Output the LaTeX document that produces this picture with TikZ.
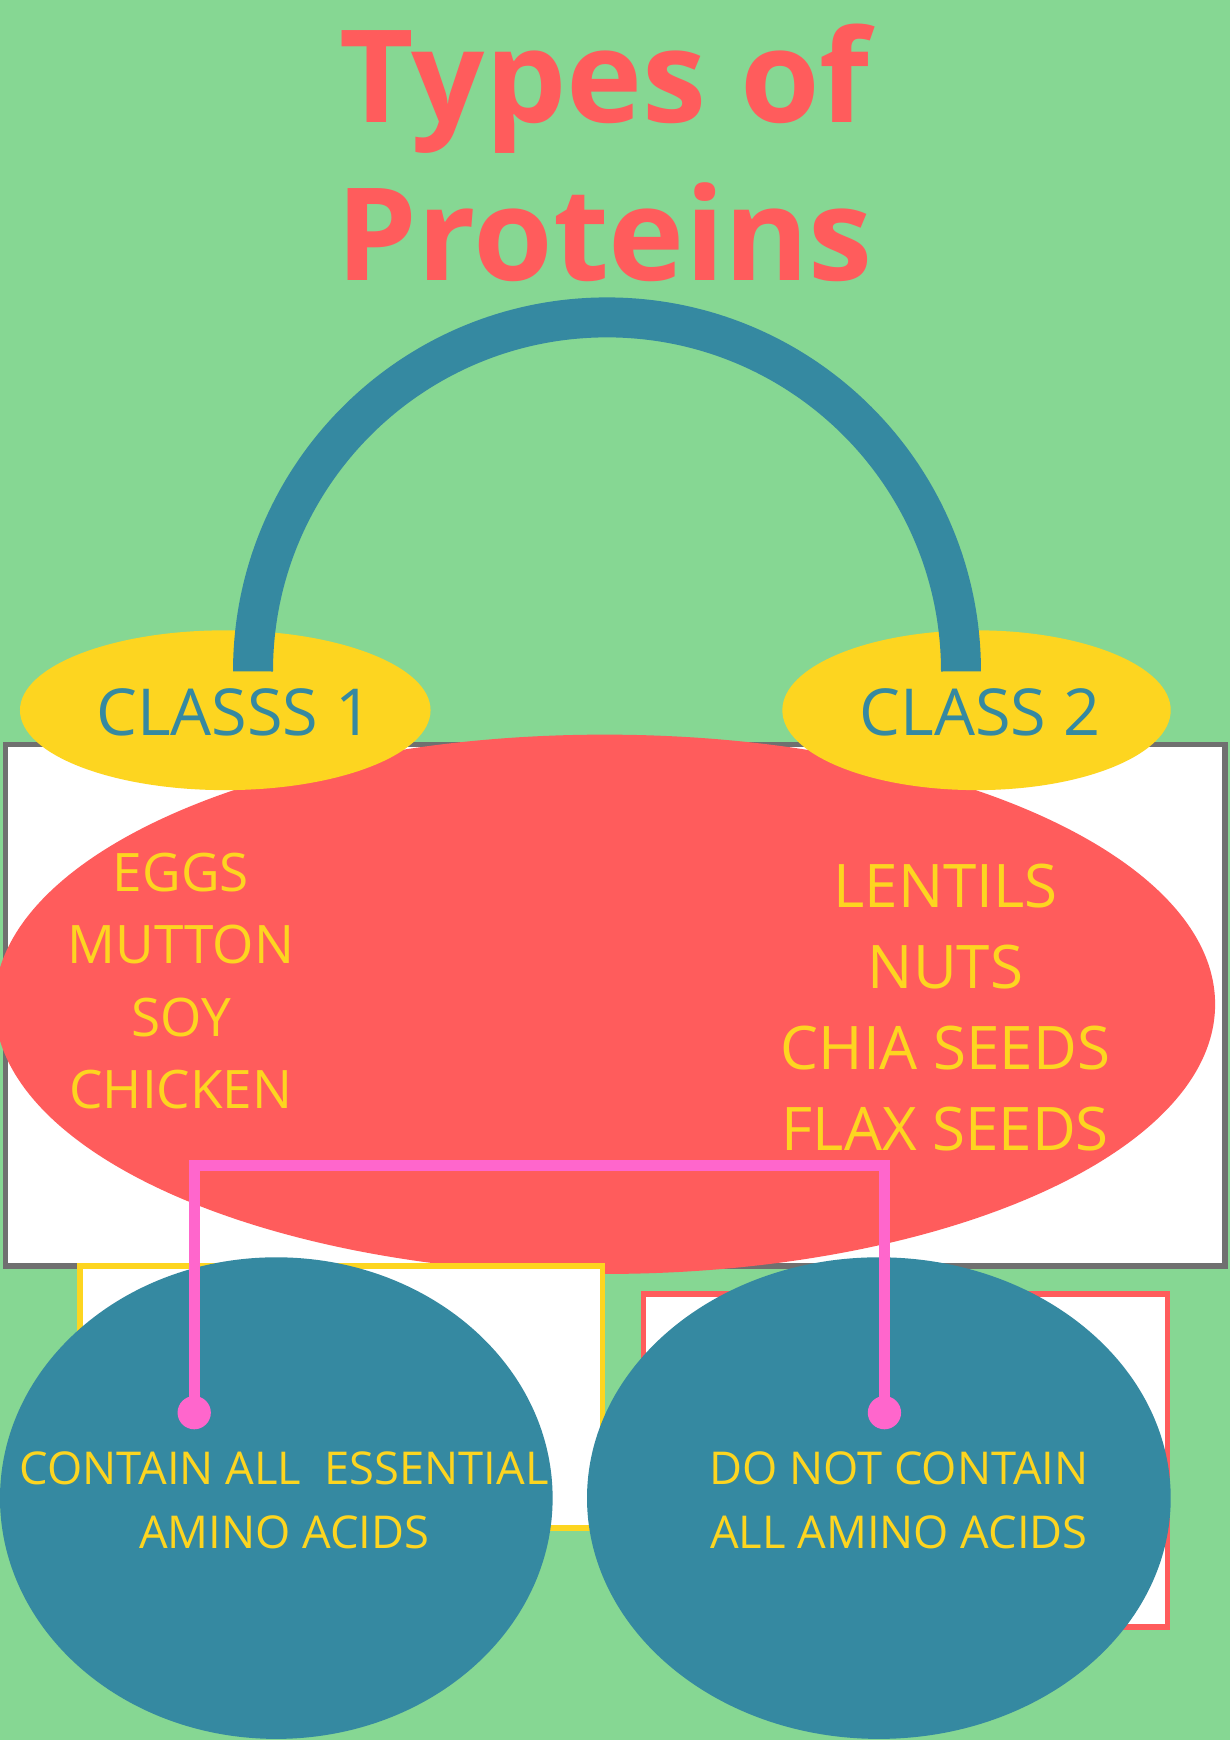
\documentclass[tikz,border=0pt]{standalone}
\usepackage{fontspec}
\setmainfont{Open Sans}
\definecolor{bg}{HTML}{86D793}
\definecolor{tred}{HTML}{FF5C5C}
\definecolor{tblue}{HTML}{3589A1}
\definecolor{tyel}{HTML}{FDD520}
\definecolor{tpink}{HTML}{FF66CC}
\definecolor{tgray}{HTML}{707070}
\begin{document}
\begin{tikzpicture}[x=0.01cm,y=-0.01cm,
  lst/.style={text=tyel,font=\fontsize{13.6}{18.5}\selectfont,align=center},
  lstr/.style={text=tyel,font=\fontsize{15.4}{20.8}\selectfont,align=center},
  bot/.style={text=tyel,font=\fontsize{11.6}{16.2}\selectfont,align=center},
  cls/.style={text=tblue,font=\fontsize{16.6}{20}\selectfont}]
\fill[bg] (0,0) rectangle (1108,1568);
\useasboundingbox (0,0) rectangle (1108,1568);
\node[text=tred,font=\bfseries\fontsize{33}{40.5}\selectfont,align=center] (title) at (545,138) {Types of\\Proteins};
\draw[tgray,line width=0.05cm,fill=white] (5,671) rectangle (1104,1141);
\fill[tred] (545,905) ellipse [x radius=550,y radius=243];
\fill[tyel] (203,640) ellipse [x radius=185,y radius=72];
\fill[tyel] (880,640) ellipse [x radius=175,y radius=72];
\node[cls] (c1) at (211,642) {CLASSS 1};
\node[cls] (c2) at (883,642) {CLASS 2};
\draw[tblue,line width=0.36cm] (228,605) arc[start angle=180,end angle=360,radius=319];
\node[lst] (l1) at (163,884) {EGGS\\MUTTON\\SOY\\CHICKEN};
\node[lstr] (l2) at (852,908) {LENTILS\\NUTS\\CHIA SEEDS\\FLAX SEEDS};
\node[font=\fontsize{7}{8}\selectfont] (ov) at (130,1146) {ov};
\draw[tyel,line width=0.05cm,fill=white] (72,1141) rectangle (543,1377);
\draw[tred,line width=0.05cm,fill=white] (580,1166) rectangle (1052,1466);
\fill[tblue] (249,1350) ellipse [x radius=249,y radius=217];
\fill[tblue] (792,1350) ellipse [x radius=263,y radius=217];
\node[bot] (b1) at (256,1352) {CONTAIN ALL\ \ ESSENTIAL\\AMINO ACIDS};
\node[bot] (b2) at (810,1352) {DO NOT CONTAIN\\ ALL AMINO ACIDS};
\coordinate (p1) at (175,1273);
\coordinate (p2) at (797,1273);
\draw[tpink,line width=0.1cm] (p1) -- (175,1050) -- (797,1050) -- (p2);
\fill[tpink] (p1) circle (15);
\fill[tpink] (p2) circle (15);
\end{tikzpicture}
\end{document}
